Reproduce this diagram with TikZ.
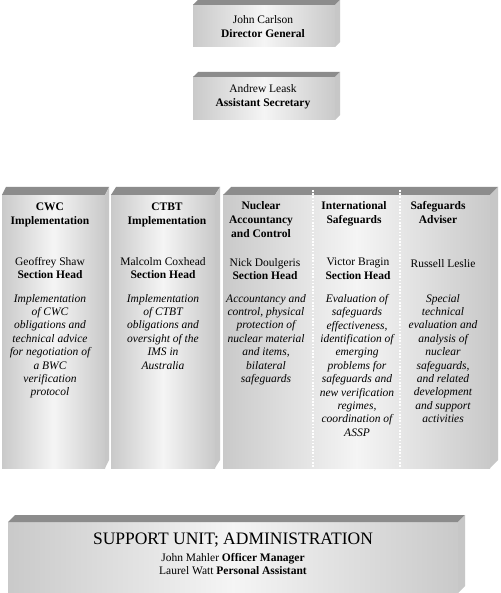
\documentclass[tikz,border=0pt]{standalone}
\usepackage{fontspec}
\setmainfont{Liberation Serif}
\usepackage{xcolor}
\usepackage{tikz}

\begin{document}
\begin{tikzpicture}[x=1pt,y=-1pt]
        \tikzstyle{front} = [inner sep=0, outer sep=0, shade, left color=black!21, right color=black!21, middle color=black!4]
        \tikzstyle{txt} = [inner sep=0, anchor=north, align=center, font=\fontsize{11.5}{13.4}\selectfont]
        \tikzstyle{head} = [txt, font=\fontsize{11.5}{14}\selectfont\bfseries]
        \tikzstyle{duty} = [txt, font=\fontsize{11.5}{13.4}\selectfont\itshape]
        \tikzstyle{divider} = [white, line width=1.6pt, dash pattern=on 1.6pt off 1.6pt]
        \fill[white] (0,0) rectangle (500,593);
        \useasboundingbox (0,0) rectangle (500,593);
        % front faces
        \node[front, minimum width=142, minimum height=42] (dg) at (264,26) {};
        \node[front, minimum width=142, minimum height=43] (as) at (264,98.5) {};
        \node[front, minimum width=103, minimum height=273] (cwc) at (53.5,331.5) {};
        \node[front, minimum width=104, minimum height=273] (ctbt) at (163,331.5) {};
        \node[front, minimum width=267, minimum height=273] (sg) at (356.5,331.5) {};
        \node[front, minimum width=450, minimum height=71] (sup) at (233,557.5) {};
        % top and side faces
        \foreach \b/\dx/\dy in {dg/5/5, as/5/5, cwc/4/8, ctbt/5/8, sg/8/8, sup/7/7} {
            \fill[black!45] (\b.north west) -- ++(\dx,-\dy) -- ([shift={(\dx,-\dy)}]\b.north east) -- (\b.north east) -- cycle;
            \fill[black!22] (\b.north east) -- ++(\dx,-\dy) -- ([shift={(\dx,-\dy)}]\b.south east) -- (\b.south east) -- cycle;
        }
        \draw[divider] (313,190) -- (313,468);
        \draw[divider] (400,190) -- (400,468);
        % texts
        \node[txt] (dgN) at (263,15.5) {John Carlson\\\textbf{Director General}};
        \node[txt] (asN) at (263,84.5) {Andrew Leask\\\textbf{Assistant Secretary}};
        \node[head] (cwcH) at (50,203) {CWC\\Implementation};
        \node[head] (ctbtH) at (167,203) {CTBT\\Implementation};
        \node[head] (nucH) at (261,201) {Nuclear\\Accountancy\\and Control};
        \node[head] (intH) at (354,201) {International\\Safeguards};
        \node[head] (advH) at (438,201) {Safeguards\\Adviser};
        \node[txt] (cwcN) at (50,257) {Geoffrey Shaw\\\textbf{Section Head}};
        \node[txt] (ctbtN) at (163,257) {Malcolm Coxhead\\\textbf{Section Head}};
        \node[txt] (nucN) at (265,258) {Nick Doulgeris\\\textbf{Section Head}};
        \node[txt] (intN) at (358,258) {Victor Bragin\\\textbf{Section Head}};
        \node[txt] (advN) at (443,259) {Russell Leslie};
        \node[duty] (cwcD) at (50,294) {Implementation\\of CWC\\obligations and\\technical advice\\for negotiation of\\a BWC\\verification\\protocol};
        \node[duty] (ctbtD) at (163,294) {Implementation\\of CTBT\\obligations and\\oversight of the\\IMS in\\Australia};
        \node[duty] (nucD) at (266,294) {Accountancy and\\control, physical\\protection of\\nuclear material\\and items,\\bilateral\\safeguards};
        \node[duty] (intD) at (357,294) {Evaluation of\\safeguards\\effectiveness,\\identification of\\emerging\\problems for\\safeguards and\\new verification\\regimes,\\coordination of\\ASSP};
        \node[duty] (advD) at (443,294) {Special\\technical\\evaluation and\\analysis of\\nuclear\\safeguards,\\and related\\development\\and support\\activities};
        \node[txt, font=\fontsize{17.5}{20}\selectfont] (supH) at (233,533) {SUPPORT UNIT; ADMINISTRATION};
        \node[txt, font=\fontsize{11.5}{13}\selectfont] (supN) at (233,553.5) {John Mahler \textbf{Officer Manager}\\Laurel Watt \textbf{Personal Assistant}};
    \end{tikzpicture}
\end{document}
